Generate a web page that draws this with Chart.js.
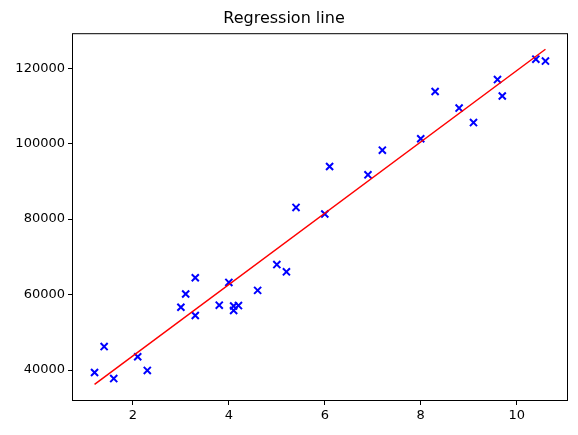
<!DOCTYPE html>
<html><head><script src="https://cdn.jsdelivr.net/npm/chart.js"></script>
<style>body{margin:0;background:#fff}#c{display:block}</style></head>
<body><canvas id="c" width="578" height="435"></canvas>
<script>
const years=[1.2,1.4,1.6,2.1,2.3,3.0,3.1,3.3,3.3,3.8,4.0,4.1,4.1,4.2,4.6,5.0,5.2,5.4,6.0,6.1,6.9,7.2,8.0,8.3,8.8,9.1,9.6,9.7,10.4,10.6];
const salary=[39343,46205,37731,43525,39891,56642,60150,54445,64445,57189,63218,55794,56957,57081,61111,67938,66029,83088,81363,93940,91738,98273,101302,113812,109431,105582,116969,112635,122391,121872];
const lineX=[1.2,10.6];
const lineY=[36190,125020];
const xTicks=[2,4,6,8,10];
const yTicks=[40000,60000,80000,100000,120000];
const F='"DejaVu Sans", sans-serif';
const box={id:'box',afterDraw(c){const a=c.chartArea,x=c.ctx;x.save();x.strokeStyle='#000';x.lineWidth=1;x.strokeRect(a.left+0.5,a.top+0.5,a.width-1,a.height-1);x.restore();}};
const grid={display:true,drawOnChartArea:false,drawTicks:true,tickLength:4,color:'#000',lineWidth:1};
new Chart(document.getElementById('c'),{
type:'scatter',
data:{datasets:[
{type:'line',data:lineX.map((v,i)=>({x:v,y:lineY[i]})),borderColor:'red',borderWidth:1.5,pointRadius:0,fill:false},
{data:years.map((v,i)=>({x:v,y:salary[i]})),pointStyle:'crossRot',pointRadius:5,borderColor:'blue',backgroundColor:'blue',borderWidth:2}
]},
options:{responsive:false,animation:false,
layout:{padding:{left:0,right:10,top:0,bottom:0}},
plugins:{legend:{display:false},tooltip:{enabled:false},
title:{display:true,text:'Regression line',color:'#000',font:{family:F,size:16,weight:'normal'},padding:{top:9,bottom:5}}},
scales:{
x:{type:'linear',min:0.73,max:11.07,grid:grid,border:{display:false},
afterBuildTicks(s){s.ticks=xTicks.map(v=>({value:v}));},
afterFit(s){s.height=34;},
ticks:{color:'#000',font:{family:F,size:13},padding:3}},
y:{min:31790,max:129270,grid:grid,border:{display:false},
afterBuildTicks(s){s.ticks=yTicks.map(v=>({value:v}));},
afterFit(s){s.width=72;},
ticks:{color:'#000',font:{family:F,size:13},padding:3,callback:v=>String(v)}}
}},
plugins:[box]});
</script></body></html>
